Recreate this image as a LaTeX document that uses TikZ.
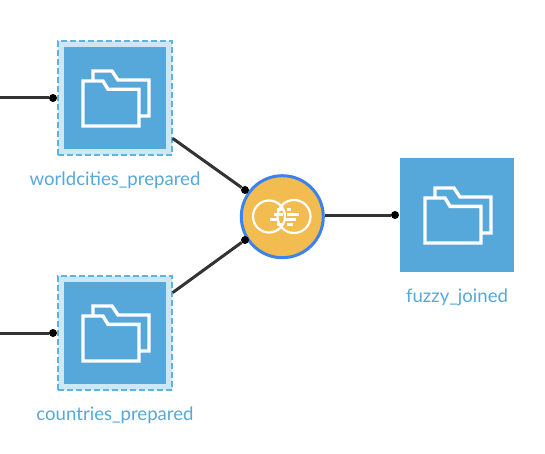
\documentclass[tikz,border=0pt]{standalone}
\usepackage{fontspec}
\setmainfont{Lato}
\usepackage{xcolor}
\usetikzlibrary{positioning}
\definecolor{dsblue}{HTML}{56A8DA}
\definecolor{dsdash}{HTML}{5CB4E6}
\definecolor{dspale}{HTML}{CDE8F5}
\definecolor{dsgold}{HTML}{F2BC51}
\definecolor{dsring}{HTML}{3B82EE}
\definecolor{dsline}{HTML}{333333}
\tikzset{
  dsbox/.style={rectangle,fill=dsblue,minimum size=#1,inner sep=0pt},
  selbox/.style={rectangle,draw=dsdash,fill=dspale,dash pattern=on 6pt off 3pt,line width=1.3pt,minimum size=114pt,inner sep=0pt},
  portdot/.style={circle,fill=black,minimum size=8pt,inner sep=0pt},
  dslabel/.style={text=dsblue,font=\fontsize{18.6}{22}\selectfont},
  link/.style={draw=dsline,line width=3pt},
  folder/.pic={
    \draw[white,line width=3.4pt]
      (-32,-17) -- (-12,-17) -- (-7,-8.7) -- (24,-8.7) -- (24,28) -- (-32,28) -- cycle;
    \draw[white,line width=3.4pt]
      (-22,-17) -- (-22,-27) -- (-3,-27) -- (3,-18) -- (34,-18) -- (34,18) -- (24,18);
  }
}
\begin{document}
\begin{tikzpicture}[x=1pt,y=-1pt]
  \useasboundingbox (0,0) rectangle (545,454);
  \coordinate (inA) at (0,98);
  \coordinate (inB) at (0,333);
  % selected datasets on the left
  \foreach \nam/\lab/\yy in {worldcities/worldcities\_prepared/98, countries/countries\_prepared/333}{
    \node[selbox] (\nam sel) at (115,\yy) {};
    \node[dsbox=102pt] (\nam) at (115,\yy) {};
    \pic at (115,\yy) {folder};
    \node[dslabel] (\nam lab) at (115,\yy+82) {\lab};
  }
  \node[dsbox=114pt] (fuzzy) at (457,215) {};
  \pic at (457,215) {folder};
  \node[dslabel] (fuzzylab) at (457,297) {fuzzy\_joined};
  \node[circle,fill=dsgold,draw=dsring,line width=3pt,minimum size=82pt,inner sep=0pt] (join) at (282.3,216.7) {};
  % join icon
  \draw[white,line width=2.2pt] (269,216.5) circle (16pt) (294,216.5) circle (16.5pt);
  \foreach \xa/\xb/\yy in {277/283/209.5, 287/291/209.5, 274/283/214.5, 287/299/214.5, 270/279/219.5, 284/296/219.5, 277/283/224.5, 287/293/224.5}{
    \draw[white,line width=2.2pt] (\xa,\yy) -- (\xb,\yy);
  }
  \node[portdot] (dotA) at (53,98) {};
  \node[portdot] (dotB) at (53,333) {};
  \node[portdot] (dotC) at (245,190) {};
  \node[portdot] (dotD) at (245,240) {};
  \node[portdot] (dotE) at (395,215) {};
  \draw[link] (inA) -- (dotA);
  \draw[link] (inB) -- (dotB);
  \draw[link] (worldcitiessel.-35) -- (dotC);
  \draw[link] (countriessel.35) -- (dotD);
  \draw[link] (dotE -| join.east) -- (dotE);
\end{tikzpicture}
\end{document}
